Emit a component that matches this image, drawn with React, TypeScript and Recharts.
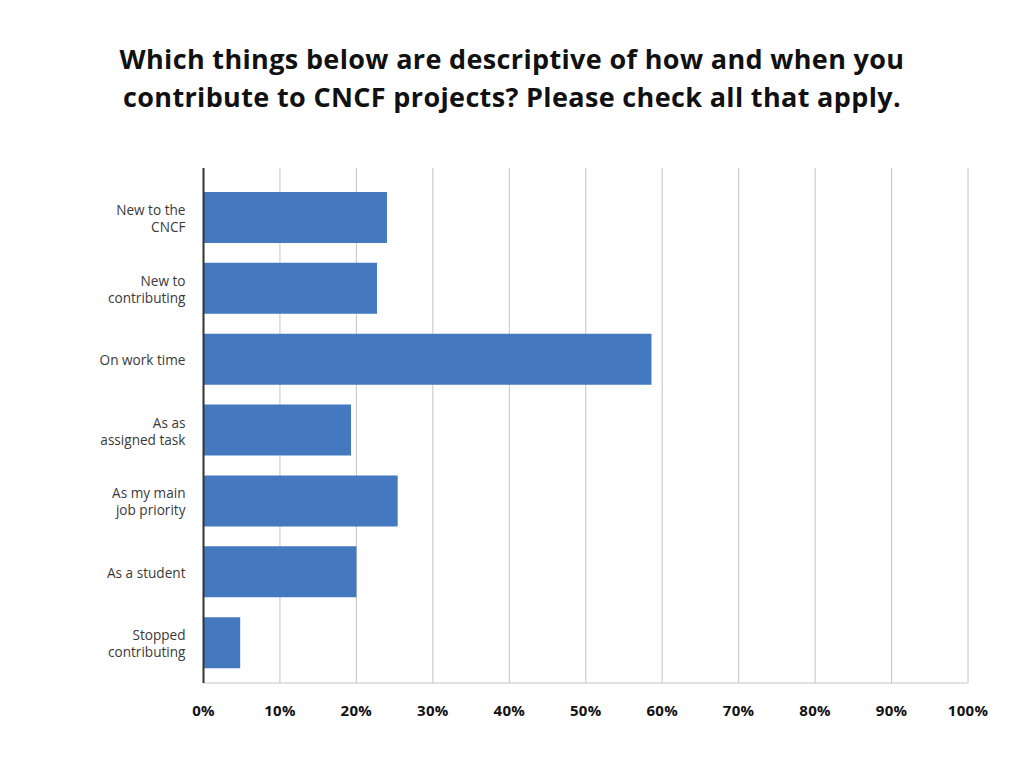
import React from 'react';
import { BarChart, Bar, XAxis, YAxis, CartesianGrid } from 'recharts';

const categories = [
    'New to the\nCNCF',
    'New to\ncontributing',
    'On work time',
    'As as\nassigned task',
    'As my main\njob priority',
    'As a student',
    'Stopped\ncontributing',
];

const shares = [24.0, 22.7, 58.6, 19.3, 25.4, 20.0, 4.8];

const xTicks = [0, 10, 20, 30, 40, 50, 60, 70, 80, 90, 100];

const data = categories.map((name, i) => ({ name, value: shares[i] }));

const CategoryTick = (props: any) => {
    const { x, y, payload } = props;
    const lines: string[] = String(payload.value).split('\n');
    const lineHeight = 17;
    const startY = y - ((lines.length - 1) * lineHeight) / 2;
    return (
        <text
            x={x}
            y={startY}
            textAnchor="end"
            dominantBaseline="central"
            fontFamily="'Open Sans', sans-serif"
            fontSize={13.6}
            fill="#3a3a3a"
        >
            {lines.map((line, i) => (
                <tspan key={i} x={x} dy={i === 0 ? 0 : lineHeight}>
                    {line}
                </tspan>
            ))}
        </text>
    );
};

const App: React.FC = () => {
    return (
        <div style={{ position: 'absolute', left: 0, top: 0, width: 1024, height: 769, background: '#fff' }}>
            <div
                style={{
                    position: 'absolute',
                    left: 0,
                    top: 40,
                    width: 1024,
                    textAlign: 'center',
                    fontFamily: "'Open Sans', sans-serif",
                    fontWeight: 700,
                    fontSize: 27,
                    letterSpacing: 0.35,
                    lineHeight: '38px',
                    color: '#111',
                }}
            >
                Which things below are descriptive of how and when you
                <br />
                contribute to CNCF projects? Please check all that apply.
            </div>
            <BarChart
                width={1024}
                height={769}
                data={data}
                layout="vertical"
                margin={{ top: 168, right: 56, left: 0, bottom: 46 }}
                barSize={51}
            >
                <CartesianGrid horizontal={false} stroke="#c4c4c4" />
                <XAxis
                    type="number"
                    domain={[0, 100]}
                    ticks={xTicks}
                    tickFormatter={(v) => `${v}%`}
                    height={40}
                    axisLine={{ stroke: '#c4c4c4' }}
                    tickLine={false}
                    tick={{ fontFamily: "'Open Sans', sans-serif", fontWeight: 700, fontSize: 15, fill: '#111', letterSpacing: 0.3 }}
                    tickMargin={16}
                    interval={0}
                />
                <YAxis
                    type="category"
                    dataKey="name"
                    width={203.5}
                    padding={{ top: 14, bottom: 5 }}
                    axisLine={{ stroke: '#333', strokeWidth: 2 }}
                    tickLine={false}
                    tick={<CategoryTick />}
                    tickMargin={12}
                    interval={0}
                />
                <Bar dataKey="value" fill="#4579bf" isAnimationActive={false} />
            </BarChart>
        </div>
    );
};

export default App;
